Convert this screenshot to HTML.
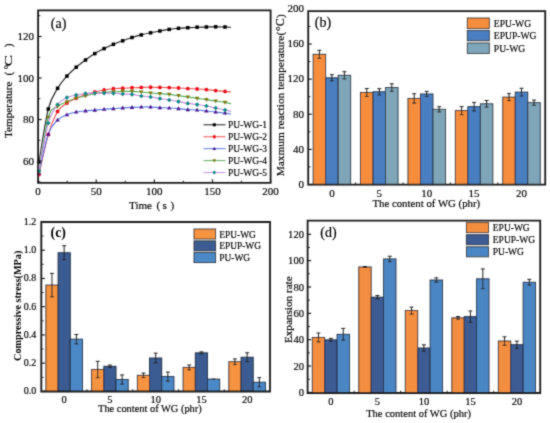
<!DOCTYPE html>
<html><head><meta charset="utf-8"><style>
html,body{margin:0;padding:0;background:#fff;}
body{width:550px;height:423px;overflow:hidden;}
svg{display:block;} .wrap{width:550px;height:423px;}
text{font-family:"Liberation Serif", serif;stroke:#000;stroke-width:0.18px;} text[font-weight=bold]{stroke-width:0;}
</style></head><body>
<div class="wrap"><svg width="550" height="423" viewBox="0 0 550 423">
<defs><filter id="bl" x="0" y="0" width="550" height="423" filterUnits="userSpaceOnUse"><feConvolveMatrix order="3" kernelMatrix="0.03 0.1 0.03 0.1 0.48 0.1 0.03 0.1 0.03" edgeMode="none"/></filter></defs>
<rect width="550" height="423" fill="#fff"/>
<g filter="url(#bl)">
<path d="M39.00 162.00 C40.55 153.17 45.20 121.28 48.30 109.00 C51.40 96.72 54.50 93.78 57.60 88.30 C60.70 82.82 63.80 79.62 66.90 76.10 C70.00 72.58 73.10 69.88 76.20 67.20 C79.30 64.52 82.40 62.27 85.50 60.00 C88.60 57.73 91.70 55.50 94.80 53.60 C97.90 51.70 101.00 50.15 104.10 48.60 C107.20 47.05 110.30 45.60 113.40 44.30 C116.50 43.00 119.60 41.93 122.70 40.80 C125.80 39.67 128.90 38.48 132.00 37.50 C135.10 36.52 138.20 35.68 141.30 34.90 C144.40 34.12 147.50 33.45 150.60 32.80 C153.70 32.15 156.80 31.57 159.90 31.00 C163.00 30.43 166.10 29.85 169.20 29.40 C172.30 28.95 175.40 28.58 178.50 28.30 C181.60 28.02 184.70 27.88 187.80 27.70 C190.90 27.52 194.00 27.32 197.10 27.20 C200.20 27.08 203.30 27.07 206.40 27.00 C209.50 26.93 212.60 26.80 215.70 26.80 C218.80 26.80 222.45 26.93 225.00 27.00 C227.55 27.07 230.00 27.17 231.00 27.20" fill="none" stroke="#222222" stroke-width="1.15"/>
<path d="M39.00 174.50 C40.55 167.83 45.20 145.00 48.30 134.50 C51.40 124.00 54.50 116.73 57.60 111.50 C60.70 106.27 63.80 105.32 66.90 103.10 C70.00 100.88 73.10 99.63 76.20 98.20 C79.30 96.77 82.40 95.53 85.50 94.50 C88.60 93.47 91.70 92.75 94.80 92.00 C97.90 91.25 101.00 90.55 104.10 90.00 C107.20 89.45 110.30 88.98 113.40 88.70 C116.50 88.42 119.60 88.45 122.70 88.30 C125.80 88.15 128.90 87.95 132.00 87.80 C135.10 87.65 138.20 87.50 141.30 87.40 C144.40 87.30 147.50 87.20 150.60 87.20 C153.70 87.20 156.80 87.33 159.90 87.40 C163.00 87.47 166.10 87.50 169.20 87.60 C172.30 87.70 175.40 87.83 178.50 88.00 C181.60 88.17 184.70 88.43 187.80 88.60 C190.90 88.77 194.00 88.83 197.10 89.00 C200.20 89.17 203.30 89.33 206.40 89.60 C209.50 89.87 212.60 90.30 215.70 90.60 C218.80 90.90 222.45 91.17 225.00 91.40 C227.55 91.63 230.00 91.90 231.00 92.00" fill="none" stroke="#f25050" stroke-width="1.15"/>
<path d="M39.00 173.00 C40.55 166.53 45.20 143.03 48.30 134.20 C51.40 125.37 54.50 123.25 57.60 120.00 C60.70 116.75 63.80 116.03 66.90 114.70 C70.00 113.37 73.10 112.65 76.20 112.00 C79.30 111.35 82.40 111.12 85.50 110.80 C88.60 110.48 91.70 110.37 94.80 110.10 C97.90 109.83 101.00 109.45 104.10 109.20 C107.20 108.95 110.30 108.82 113.40 108.60 C116.50 108.38 119.60 108.10 122.70 107.90 C125.80 107.70 128.90 107.55 132.00 107.40 C135.10 107.25 138.20 107.07 141.30 107.00 C144.40 106.93 147.50 106.90 150.60 107.00 C153.70 107.10 156.80 107.43 159.90 107.60 C163.00 107.77 166.10 107.83 169.20 108.00 C172.30 108.17 175.40 108.33 178.50 108.60 C181.60 108.87 184.70 109.37 187.80 109.60 C190.90 109.83 194.00 109.77 197.10 110.00 C200.20 110.23 203.30 110.67 206.40 111.00 C209.50 111.33 212.60 111.67 215.70 112.00 C218.80 112.33 222.45 112.67 225.00 113.00 C227.55 113.33 230.00 113.83 231.00 114.00" fill="none" stroke="#5a7ae0" stroke-width="1.15"/>
<path d="M39.00 172.00 C40.55 162.88 45.20 128.22 48.30 117.30 C51.40 106.38 54.50 109.08 57.60 106.50 C60.70 103.92 63.80 103.18 66.90 101.80 C70.00 100.42 73.10 99.17 76.20 98.20 C79.30 97.23 82.40 96.77 85.50 96.00 C88.60 95.23 91.70 94.20 94.80 93.60 C97.90 93.00 101.00 92.70 104.10 92.40 C107.20 92.10 110.30 91.97 113.40 91.80 C116.50 91.63 119.60 91.47 122.70 91.40 C125.80 91.33 128.90 91.30 132.00 91.40 C135.10 91.50 138.20 91.73 141.30 92.00 C144.40 92.27 147.50 92.73 150.60 93.00 C153.70 93.27 156.80 93.37 159.90 93.60 C163.00 93.83 166.10 94.07 169.20 94.40 C172.30 94.73 175.40 95.17 178.50 95.60 C181.60 96.03 184.70 96.53 187.80 97.00 C190.90 97.47 194.00 97.97 197.10 98.40 C200.20 98.83 203.30 99.17 206.40 99.60 C209.50 100.03 212.60 100.53 215.70 101.00 C218.80 101.47 222.45 101.97 225.00 102.40 C227.55 102.83 230.00 103.40 231.00 103.60" fill="none" stroke="#5aae5a" stroke-width="1.15"/>
<path d="M39.00 171.00 C40.55 163.02 45.20 134.18 48.30 123.10 C51.40 112.02 54.50 108.75 57.60 104.50 C60.70 100.25 63.80 99.17 66.90 97.60 C70.00 96.03 73.10 95.77 76.20 95.10 C79.30 94.43 82.40 93.93 85.50 93.60 C88.60 93.27 91.70 93.18 94.80 93.10 C97.90 93.02 101.00 93.07 104.10 93.10 C107.20 93.13 110.30 93.15 113.40 93.30 C116.50 93.45 119.60 93.82 122.70 94.00 C125.80 94.18 128.90 94.07 132.00 94.40 C135.10 94.73 138.20 95.57 141.30 96.00 C144.40 96.43 147.50 96.57 150.60 97.00 C153.70 97.43 156.80 98.10 159.90 98.60 C163.00 99.10 166.10 99.50 169.20 100.00 C172.30 100.50 175.40 101.03 178.50 101.60 C181.60 102.17 184.70 102.90 187.80 103.40 C190.90 103.90 194.00 104.17 197.10 104.60 C200.20 105.03 203.30 105.43 206.40 106.00 C209.50 106.57 212.60 107.33 215.70 108.00 C218.80 108.67 222.45 109.43 225.00 110.00 C227.55 110.57 230.00 111.17 231.00 111.40" fill="none" stroke="#c090e0" stroke-width="1.15"/>
<rect x="37.25" y="160.25" width="3.50" height="3.50" fill="#000000"/>
<rect x="46.55" y="107.25" width="3.50" height="3.50" fill="#000000"/>
<rect x="55.85" y="86.55" width="3.50" height="3.50" fill="#000000"/>
<rect x="65.15" y="74.35" width="3.50" height="3.50" fill="#000000"/>
<rect x="74.45" y="65.45" width="3.50" height="3.50" fill="#000000"/>
<rect x="83.75" y="58.25" width="3.50" height="3.50" fill="#000000"/>
<rect x="93.05" y="51.85" width="3.50" height="3.50" fill="#000000"/>
<rect x="102.35" y="46.85" width="3.50" height="3.50" fill="#000000"/>
<rect x="111.65" y="42.55" width="3.50" height="3.50" fill="#000000"/>
<rect x="120.95" y="39.05" width="3.50" height="3.50" fill="#000000"/>
<rect x="130.25" y="35.75" width="3.50" height="3.50" fill="#000000"/>
<rect x="139.55" y="33.15" width="3.50" height="3.50" fill="#000000"/>
<rect x="148.85" y="31.05" width="3.50" height="3.50" fill="#000000"/>
<rect x="158.15" y="29.25" width="3.50" height="3.50" fill="#000000"/>
<rect x="167.45" y="27.65" width="3.50" height="3.50" fill="#000000"/>
<rect x="176.75" y="26.55" width="3.50" height="3.50" fill="#000000"/>
<rect x="186.05" y="25.95" width="3.50" height="3.50" fill="#000000"/>
<rect x="195.35" y="25.45" width="3.50" height="3.50" fill="#000000"/>
<rect x="204.65" y="25.25" width="3.50" height="3.50" fill="#000000"/>
<rect x="213.95" y="25.05" width="3.50" height="3.50" fill="#000000"/>
<rect x="223.25" y="25.25" width="3.50" height="3.50" fill="#000000"/>
<circle cx="39.00" cy="174.50" r="1.93" fill="#e8101a"/>
<circle cx="48.30" cy="134.50" r="1.93" fill="#e8101a"/>
<circle cx="57.60" cy="111.50" r="1.93" fill="#e8101a"/>
<circle cx="66.90" cy="103.10" r="1.93" fill="#e8101a"/>
<circle cx="76.20" cy="98.20" r="1.93" fill="#e8101a"/>
<circle cx="85.50" cy="94.50" r="1.93" fill="#e8101a"/>
<circle cx="94.80" cy="92.00" r="1.93" fill="#e8101a"/>
<circle cx="104.10" cy="90.00" r="1.93" fill="#e8101a"/>
<circle cx="113.40" cy="88.70" r="1.93" fill="#e8101a"/>
<circle cx="122.70" cy="88.30" r="1.93" fill="#e8101a"/>
<circle cx="132.00" cy="87.80" r="1.93" fill="#e8101a"/>
<circle cx="141.30" cy="87.40" r="1.93" fill="#e8101a"/>
<circle cx="150.60" cy="87.20" r="1.93" fill="#e8101a"/>
<circle cx="159.90" cy="87.40" r="1.93" fill="#e8101a"/>
<circle cx="169.20" cy="87.60" r="1.93" fill="#e8101a"/>
<circle cx="178.50" cy="88.00" r="1.93" fill="#e8101a"/>
<circle cx="187.80" cy="88.60" r="1.93" fill="#e8101a"/>
<circle cx="197.10" cy="89.00" r="1.93" fill="#e8101a"/>
<circle cx="206.40" cy="89.60" r="1.93" fill="#e8101a"/>
<circle cx="215.70" cy="90.60" r="1.93" fill="#e8101a"/>
<circle cx="225.00" cy="91.40" r="1.93" fill="#e8101a"/>
<path d="M39.00 170.72 L41.27 174.59 L36.73 174.59 Z" fill="#4b0e8c"/>
<path d="M48.30 131.92 L50.57 135.79 L46.02 135.79 Z" fill="#4b0e8c"/>
<path d="M57.60 117.72 L59.88 121.59 L55.33 121.59 Z" fill="#4b0e8c"/>
<path d="M66.90 112.42 L69.18 116.29 L64.62 116.29 Z" fill="#4b0e8c"/>
<path d="M76.20 109.72 L78.48 113.59 L73.92 113.59 Z" fill="#4b0e8c"/>
<path d="M85.50 108.52 L87.78 112.39 L83.22 112.39 Z" fill="#4b0e8c"/>
<path d="M94.80 107.82 L97.08 111.69 L92.53 111.69 Z" fill="#4b0e8c"/>
<path d="M104.10 106.92 L106.38 110.79 L101.83 110.79 Z" fill="#4b0e8c"/>
<path d="M113.40 106.32 L115.68 110.19 L111.12 110.19 Z" fill="#4b0e8c"/>
<path d="M122.70 105.62 L124.98 109.49 L120.42 109.49 Z" fill="#4b0e8c"/>
<path d="M132.00 105.12 L134.28 108.99 L129.72 108.99 Z" fill="#4b0e8c"/>
<path d="M141.30 104.72 L143.58 108.59 L139.03 108.59 Z" fill="#4b0e8c"/>
<path d="M150.60 104.72 L152.88 108.59 L148.33 108.59 Z" fill="#4b0e8c"/>
<path d="M159.90 105.32 L162.18 109.19 L157.62 109.19 Z" fill="#4b0e8c"/>
<path d="M169.20 105.72 L171.48 109.59 L166.93 109.59 Z" fill="#4b0e8c"/>
<path d="M178.50 106.32 L180.78 110.19 L176.22 110.19 Z" fill="#4b0e8c"/>
<path d="M187.80 107.32 L190.08 111.19 L185.53 111.19 Z" fill="#4b0e8c"/>
<path d="M197.10 107.72 L199.38 111.59 L194.83 111.59 Z" fill="#4b0e8c"/>
<path d="M206.40 108.72 L208.68 112.59 L204.12 112.59 Z" fill="#4b0e8c"/>
<path d="M215.70 109.72 L217.98 113.59 L213.43 113.59 Z" fill="#4b0e8c"/>
<path d="M225.00 110.72 L227.28 114.59 L222.72 114.59 Z" fill="#4b0e8c"/>
<path d="M39.00 174.28 L41.27 170.41 L36.73 170.41 Z" fill="#7a7a10"/>
<path d="M48.30 119.58 L50.57 115.71 L46.02 115.71 Z" fill="#7a7a10"/>
<path d="M57.60 108.78 L59.88 104.91 L55.33 104.91 Z" fill="#7a7a10"/>
<path d="M66.90 104.08 L69.18 100.21 L64.62 100.21 Z" fill="#7a7a10"/>
<path d="M76.20 100.48 L78.48 96.61 L73.92 96.61 Z" fill="#7a7a10"/>
<path d="M85.50 98.28 L87.78 94.41 L83.22 94.41 Z" fill="#7a7a10"/>
<path d="M94.80 95.88 L97.08 92.01 L92.53 92.01 Z" fill="#7a7a10"/>
<path d="M104.10 94.68 L106.38 90.81 L101.83 90.81 Z" fill="#7a7a10"/>
<path d="M113.40 94.08 L115.68 90.21 L111.12 90.21 Z" fill="#7a7a10"/>
<path d="M122.70 93.68 L124.98 89.81 L120.42 89.81 Z" fill="#7a7a10"/>
<path d="M132.00 93.68 L134.28 89.81 L129.72 89.81 Z" fill="#7a7a10"/>
<path d="M141.30 94.28 L143.58 90.41 L139.03 90.41 Z" fill="#7a7a10"/>
<path d="M150.60 95.28 L152.88 91.41 L148.33 91.41 Z" fill="#7a7a10"/>
<path d="M159.90 95.88 L162.18 92.01 L157.62 92.01 Z" fill="#7a7a10"/>
<path d="M169.20 96.68 L171.48 92.81 L166.93 92.81 Z" fill="#7a7a10"/>
<path d="M178.50 97.88 L180.78 94.01 L176.22 94.01 Z" fill="#7a7a10"/>
<path d="M187.80 99.28 L190.08 95.41 L185.53 95.41 Z" fill="#7a7a10"/>
<path d="M197.10 100.68 L199.38 96.81 L194.83 96.81 Z" fill="#7a7a10"/>
<path d="M206.40 101.88 L208.68 98.01 L204.12 98.01 Z" fill="#7a7a10"/>
<path d="M215.70 103.28 L217.98 99.41 L213.43 99.41 Z" fill="#7a7a10"/>
<path d="M225.00 104.68 L227.28 100.81 L222.72 100.81 Z" fill="#7a7a10"/>
<path d="M39.00 168.64 L41.36 171.00 L39.00 173.36 L36.64 171.00 Z" fill="#108a88"/>
<path d="M48.30 120.74 L50.66 123.10 L48.30 125.46 L45.94 123.10 Z" fill="#108a88"/>
<path d="M57.60 102.14 L59.96 104.50 L57.60 106.86 L55.24 104.50 Z" fill="#108a88"/>
<path d="M66.90 95.24 L69.26 97.60 L66.90 99.96 L64.54 97.60 Z" fill="#108a88"/>
<path d="M76.20 92.74 L78.56 95.10 L76.20 97.46 L73.84 95.10 Z" fill="#108a88"/>
<path d="M85.50 91.24 L87.86 93.60 L85.50 95.96 L83.14 93.60 Z" fill="#108a88"/>
<path d="M94.80 90.74 L97.16 93.10 L94.80 95.46 L92.44 93.10 Z" fill="#108a88"/>
<path d="M104.10 90.74 L106.46 93.10 L104.10 95.46 L101.74 93.10 Z" fill="#108a88"/>
<path d="M113.40 90.94 L115.76 93.30 L113.40 95.66 L111.04 93.30 Z" fill="#108a88"/>
<path d="M122.70 91.64 L125.06 94.00 L122.70 96.36 L120.34 94.00 Z" fill="#108a88"/>
<path d="M132.00 92.04 L134.36 94.40 L132.00 96.76 L129.64 94.40 Z" fill="#108a88"/>
<path d="M141.30 93.64 L143.66 96.00 L141.30 98.36 L138.94 96.00 Z" fill="#108a88"/>
<path d="M150.60 94.64 L152.96 97.00 L150.60 99.36 L148.24 97.00 Z" fill="#108a88"/>
<path d="M159.90 96.24 L162.26 98.60 L159.90 100.96 L157.54 98.60 Z" fill="#108a88"/>
<path d="M169.20 97.64 L171.56 100.00 L169.20 102.36 L166.84 100.00 Z" fill="#108a88"/>
<path d="M178.50 99.24 L180.86 101.60 L178.50 103.96 L176.14 101.60 Z" fill="#108a88"/>
<path d="M187.80 101.04 L190.16 103.40 L187.80 105.76 L185.44 103.40 Z" fill="#108a88"/>
<path d="M197.10 102.24 L199.46 104.60 L197.10 106.96 L194.74 104.60 Z" fill="#108a88"/>
<path d="M206.40 103.64 L208.76 106.00 L206.40 108.36 L204.04 106.00 Z" fill="#108a88"/>
<path d="M215.70 105.64 L218.06 108.00 L215.70 110.36 L213.34 108.00 Z" fill="#108a88"/>
<path d="M225.00 107.64 L227.36 110.00 L225.00 112.36 L222.64 110.00 Z" fill="#108a88"/>
<path d="M38.10 10.40 H270.60 V182.90 H38.10 Z" fill="none" stroke="#1a1a1a" stroke-width="1.8" stroke-linejoin="miter"/>
<line x1="38.10" y1="161.00" x2="41.60" y2="161.00" stroke="#1a1a1a" stroke-width="1.2"/>
<text x="34.10" y="164.70" font-size="11" text-anchor="end" fill="#000000" font-weight="normal">60</text>
<line x1="38.10" y1="119.50" x2="41.60" y2="119.50" stroke="#1a1a1a" stroke-width="1.2"/>
<text x="34.10" y="123.20" font-size="11" text-anchor="end" fill="#000000" font-weight="normal">80</text>
<line x1="38.10" y1="78.00" x2="41.60" y2="78.00" stroke="#1a1a1a" stroke-width="1.2"/>
<text x="34.10" y="81.70" font-size="11" text-anchor="end" fill="#000000" font-weight="normal">100</text>
<line x1="38.10" y1="36.50" x2="41.60" y2="36.50" stroke="#1a1a1a" stroke-width="1.2"/>
<text x="34.10" y="40.20" font-size="11" text-anchor="end" fill="#000000" font-weight="normal">120</text>
<line x1="38.10" y1="181.75" x2="40.30" y2="181.75" stroke="#1a1a1a" stroke-width="1.0"/>
<line x1="38.10" y1="140.25" x2="40.30" y2="140.25" stroke="#1a1a1a" stroke-width="1.0"/>
<line x1="38.10" y1="98.75" x2="40.30" y2="98.75" stroke="#1a1a1a" stroke-width="1.0"/>
<line x1="38.10" y1="57.25" x2="40.30" y2="57.25" stroke="#1a1a1a" stroke-width="1.0"/>
<line x1="38.10" y1="15.75" x2="40.30" y2="15.75" stroke="#1a1a1a" stroke-width="1.0"/>
<line x1="38.10" y1="182.90" x2="38.10" y2="179.40" stroke="#1a1a1a" stroke-width="1.2"/>
<text x="38.10" y="195.40" font-size="11" text-anchor="middle" fill="#000000" font-weight="normal">0</text>
<line x1="96.23" y1="182.90" x2="96.23" y2="179.40" stroke="#1a1a1a" stroke-width="1.2"/>
<text x="96.23" y="195.40" font-size="11" text-anchor="middle" fill="#000000" font-weight="normal">50</text>
<line x1="154.35" y1="182.90" x2="154.35" y2="179.40" stroke="#1a1a1a" stroke-width="1.2"/>
<text x="154.35" y="195.40" font-size="11" text-anchor="middle" fill="#000000" font-weight="normal">100</text>
<line x1="212.48" y1="182.90" x2="212.48" y2="179.40" stroke="#1a1a1a" stroke-width="1.2"/>
<text x="212.48" y="195.40" font-size="11" text-anchor="middle" fill="#000000" font-weight="normal">150</text>
<line x1="270.60" y1="182.90" x2="270.60" y2="179.40" stroke="#1a1a1a" stroke-width="1.2"/>
<text x="270.60" y="195.40" font-size="11" text-anchor="middle" fill="#000000" font-weight="normal">200</text>
<line x1="67.16" y1="182.90" x2="67.16" y2="180.70" stroke="#1a1a1a" stroke-width="1.0"/>
<line x1="125.29" y1="182.90" x2="125.29" y2="180.70" stroke="#1a1a1a" stroke-width="1.0"/>
<line x1="183.41" y1="182.90" x2="183.41" y2="180.70" stroke="#1a1a1a" stroke-width="1.0"/>
<line x1="241.54" y1="182.90" x2="241.54" y2="180.70" stroke="#1a1a1a" stroke-width="1.0"/>
<text x="50.80" y="28.30" font-size="14" text-anchor="start" fill="#000000" font-weight="normal">(a)</text>
<line x1="203.50" y1="124.80" x2="225.50" y2="124.80" stroke="#222222" stroke-width="1"/>
<rect x="212.80" y="123.30" width="3.00" height="3.00" fill="#000000"/>
<text x="228.00" y="128.10" font-size="9.5" text-anchor="start" fill="#000000" font-weight="normal">PU-WG-1</text>
<line x1="203.50" y1="136.75" x2="225.50" y2="136.75" stroke="#f25050" stroke-width="1"/>
<circle cx="214.30" cy="136.75" r="1.65" fill="#e8101a"/>
<text x="228.00" y="140.05" font-size="9.5" text-anchor="start" fill="#000000" font-weight="normal">PU-WG-2</text>
<line x1="203.50" y1="148.70" x2="225.50" y2="148.70" stroke="#5a7ae0" stroke-width="1"/>
<path d="M214.30 146.75 L216.25 150.06 L212.35 150.06 Z" fill="#4b0e8c"/>
<text x="228.00" y="152.00" font-size="9.5" text-anchor="start" fill="#000000" font-weight="normal">PU-WG-3</text>
<line x1="203.50" y1="160.65" x2="225.50" y2="160.65" stroke="#5aae5a" stroke-width="1"/>
<path d="M214.30 162.60 L216.25 159.28 L212.35 159.28 Z" fill="#7a7a10"/>
<text x="228.00" y="163.95" font-size="9.5" text-anchor="start" fill="#000000" font-weight="normal">PU-WG-4</text>
<line x1="203.50" y1="172.60" x2="225.50" y2="172.60" stroke="#c090e0" stroke-width="1"/>
<path d="M214.30 170.57 L216.33 172.60 L214.30 174.62 L212.28 172.60 Z" fill="#108a88"/>
<text x="228.00" y="175.90" font-size="9.5" text-anchor="start" fill="#000000" font-weight="normal">PU-WG-5</text>
<text transform="translate(129.00 208.50) rotate(0)" font-size="11.1" fill="#000000"><tspan x="0.00">Time</tspan><tspan x="27.60">(</tspan><tspan x="33.60">s</tspan><tspan x="41.60">)</tspan></text>
<text transform="translate(12.30 138.00) rotate(-90)" font-size="11.2" fill="#000000"><tspan x="0.00">Temperature</tspan><tspan x="62.40">(</tspan><tspan x="68.50" font-size="11.2">°</tspan><tspan x="71.40" font-size="11.2" textLength="11.6" lengthAdjust="spacingAndGlyphs">C</tspan><tspan x="90.80">)</tspan></text>
<rect x="313.15" y="54.29" width="12.50" height="130.31" fill="#f68d3d" stroke="#1e2a3a" stroke-width="0.9"/>
<rect x="325.65" y="77.82" width="12.50" height="106.78" fill="#4a7fc0" stroke="#1e2a3a" stroke-width="0.9"/>
<rect x="338.15" y="75.28" width="12.50" height="109.32" fill="#7fa5b8" stroke="#1e2a3a" stroke-width="0.9"/>
<rect x="360.55" y="92.49" width="12.50" height="92.11" fill="#f68d3d" stroke="#1e2a3a" stroke-width="0.9"/>
<rect x="373.05" y="91.78" width="12.50" height="92.82" fill="#4a7fc0" stroke="#1e2a3a" stroke-width="0.9"/>
<rect x="385.55" y="87.57" width="12.50" height="97.03" fill="#7fa5b8" stroke="#1e2a3a" stroke-width="0.9"/>
<rect x="407.95" y="98.46" width="12.50" height="86.14" fill="#f68d3d" stroke="#1e2a3a" stroke-width="0.9"/>
<rect x="420.45" y="93.98" width="12.50" height="90.62" fill="#4a7fc0" stroke="#1e2a3a" stroke-width="0.9"/>
<rect x="432.95" y="109.34" width="12.50" height="75.26" fill="#7fa5b8" stroke="#1e2a3a" stroke-width="0.9"/>
<rect x="455.35" y="110.66" width="12.50" height="73.94" fill="#f68d3d" stroke="#1e2a3a" stroke-width="0.9"/>
<rect x="467.85" y="106.71" width="12.50" height="77.89" fill="#4a7fc0" stroke="#1e2a3a" stroke-width="0.9"/>
<rect x="480.35" y="103.81" width="12.50" height="80.79" fill="#7fa5b8" stroke="#1e2a3a" stroke-width="0.9"/>
<rect x="502.75" y="97.14" width="12.50" height="87.46" fill="#f68d3d" stroke="#1e2a3a" stroke-width="0.9"/>
<rect x="515.25" y="92.13" width="12.50" height="92.47" fill="#4a7fc0" stroke="#1e2a3a" stroke-width="0.9"/>
<rect x="527.75" y="102.67" width="12.50" height="81.93" fill="#7fa5b8" stroke="#1e2a3a" stroke-width="0.9"/>
<line x1="319.40" y1="50.29" x2="319.40" y2="58.29" stroke="#222" stroke-width="1.0"/>
<line x1="317.45" y1="50.29" x2="321.35" y2="50.29" stroke="#222" stroke-width="1.0"/>
<line x1="317.45" y1="58.29" x2="321.35" y2="58.29" stroke="#222" stroke-width="1.0"/>
<line x1="331.90" y1="74.72" x2="331.90" y2="80.92" stroke="#222" stroke-width="1.0"/>
<line x1="329.95" y1="74.72" x2="333.85" y2="74.72" stroke="#222" stroke-width="1.0"/>
<line x1="329.95" y1="80.92" x2="333.85" y2="80.92" stroke="#222" stroke-width="1.0"/>
<line x1="344.40" y1="71.68" x2="344.40" y2="78.88" stroke="#222" stroke-width="1.0"/>
<line x1="342.45" y1="71.68" x2="346.35" y2="71.68" stroke="#222" stroke-width="1.0"/>
<line x1="342.45" y1="78.88" x2="346.35" y2="78.88" stroke="#222" stroke-width="1.0"/>
<line x1="366.80" y1="88.49" x2="366.80" y2="96.49" stroke="#222" stroke-width="1.0"/>
<line x1="364.85" y1="88.49" x2="368.75" y2="88.49" stroke="#222" stroke-width="1.0"/>
<line x1="364.85" y1="96.49" x2="368.75" y2="96.49" stroke="#222" stroke-width="1.0"/>
<line x1="379.30" y1="88.68" x2="379.30" y2="94.88" stroke="#222" stroke-width="1.0"/>
<line x1="377.35" y1="88.68" x2="381.25" y2="88.68" stroke="#222" stroke-width="1.0"/>
<line x1="377.35" y1="94.88" x2="381.25" y2="94.88" stroke="#222" stroke-width="1.0"/>
<line x1="391.80" y1="83.82" x2="391.80" y2="91.32" stroke="#222" stroke-width="1.0"/>
<line x1="389.85" y1="83.82" x2="393.75" y2="83.82" stroke="#222" stroke-width="1.0"/>
<line x1="389.85" y1="91.32" x2="393.75" y2="91.32" stroke="#222" stroke-width="1.0"/>
<line x1="414.20" y1="93.76" x2="414.20" y2="103.16" stroke="#222" stroke-width="1.0"/>
<line x1="412.25" y1="93.76" x2="416.15" y2="93.76" stroke="#222" stroke-width="1.0"/>
<line x1="412.25" y1="103.16" x2="416.15" y2="103.16" stroke="#222" stroke-width="1.0"/>
<line x1="426.70" y1="91.38" x2="426.70" y2="96.58" stroke="#222" stroke-width="1.0"/>
<line x1="424.75" y1="91.38" x2="428.65" y2="91.38" stroke="#222" stroke-width="1.0"/>
<line x1="424.75" y1="96.58" x2="428.65" y2="96.58" stroke="#222" stroke-width="1.0"/>
<line x1="439.20" y1="106.74" x2="439.20" y2="111.94" stroke="#222" stroke-width="1.0"/>
<line x1="437.25" y1="106.74" x2="441.15" y2="106.74" stroke="#222" stroke-width="1.0"/>
<line x1="437.25" y1="111.94" x2="441.15" y2="111.94" stroke="#222" stroke-width="1.0"/>
<line x1="461.60" y1="106.66" x2="461.60" y2="114.66" stroke="#222" stroke-width="1.0"/>
<line x1="459.65" y1="106.66" x2="463.55" y2="106.66" stroke="#222" stroke-width="1.0"/>
<line x1="459.65" y1="114.66" x2="463.55" y2="114.66" stroke="#222" stroke-width="1.0"/>
<line x1="474.10" y1="102.41" x2="474.10" y2="111.01" stroke="#222" stroke-width="1.0"/>
<line x1="472.15" y1="102.41" x2="476.05" y2="102.41" stroke="#222" stroke-width="1.0"/>
<line x1="472.15" y1="111.01" x2="476.05" y2="111.01" stroke="#222" stroke-width="1.0"/>
<line x1="486.60" y1="100.51" x2="486.60" y2="107.11" stroke="#222" stroke-width="1.0"/>
<line x1="484.65" y1="100.51" x2="488.55" y2="100.51" stroke="#222" stroke-width="1.0"/>
<line x1="484.65" y1="107.11" x2="488.55" y2="107.11" stroke="#222" stroke-width="1.0"/>
<line x1="509.00" y1="93.64" x2="509.00" y2="100.64" stroke="#222" stroke-width="1.0"/>
<line x1="507.05" y1="93.64" x2="510.95" y2="93.64" stroke="#222" stroke-width="1.0"/>
<line x1="507.05" y1="100.64" x2="510.95" y2="100.64" stroke="#222" stroke-width="1.0"/>
<line x1="521.50" y1="88.28" x2="521.50" y2="95.98" stroke="#222" stroke-width="1.0"/>
<line x1="519.55" y1="88.28" x2="523.45" y2="88.28" stroke="#222" stroke-width="1.0"/>
<line x1="519.55" y1="95.98" x2="523.45" y2="95.98" stroke="#222" stroke-width="1.0"/>
<line x1="534.00" y1="100.07" x2="534.00" y2="105.27" stroke="#222" stroke-width="1.0"/>
<line x1="532.05" y1="100.07" x2="535.95" y2="100.07" stroke="#222" stroke-width="1.0"/>
<line x1="532.05" y1="105.27" x2="535.95" y2="105.27" stroke="#222" stroke-width="1.0"/>
<line x1="355.60" y1="184.60" x2="355.60" y2="182.40" stroke="#1a1a1a" stroke-width="1.0"/>
<line x1="403.00" y1="184.60" x2="403.00" y2="182.40" stroke="#1a1a1a" stroke-width="1.0"/>
<line x1="450.40" y1="184.60" x2="450.40" y2="182.40" stroke="#1a1a1a" stroke-width="1.0"/>
<line x1="497.80" y1="184.60" x2="497.80" y2="182.40" stroke="#1a1a1a" stroke-width="1.0"/>
<path d="M308.20 11.20 H545.20 V184.60 H308.20 Z" fill="none" stroke="#1a1a1a" stroke-width="1.8" stroke-linejoin="miter"/>
<line x1="308.20" y1="184.50" x2="311.70" y2="184.50" stroke="#1a1a1a" stroke-width="1.2"/>
<text x="303.90" y="187.80" font-size="11" text-anchor="end" fill="#000000" font-weight="normal">0</text>
<line x1="308.20" y1="149.38" x2="311.70" y2="149.38" stroke="#1a1a1a" stroke-width="1.2"/>
<text x="303.90" y="152.68" font-size="11" text-anchor="end" fill="#000000" font-weight="normal">40</text>
<line x1="308.20" y1="114.26" x2="311.70" y2="114.26" stroke="#1a1a1a" stroke-width="1.2"/>
<text x="303.90" y="117.56" font-size="11" text-anchor="end" fill="#000000" font-weight="normal">80</text>
<line x1="308.20" y1="79.14" x2="311.70" y2="79.14" stroke="#1a1a1a" stroke-width="1.2"/>
<text x="303.90" y="82.44" font-size="11" text-anchor="end" fill="#000000" font-weight="normal">120</text>
<line x1="308.20" y1="44.02" x2="311.70" y2="44.02" stroke="#1a1a1a" stroke-width="1.2"/>
<text x="303.90" y="47.32" font-size="11" text-anchor="end" fill="#000000" font-weight="normal">160</text>
<text x="303.90" y="12.20" font-size="11" text-anchor="end" fill="#000000" font-weight="normal">200</text>
<line x1="308.20" y1="166.94" x2="310.40" y2="166.94" stroke="#1a1a1a" stroke-width="1.0"/>
<line x1="308.20" y1="131.82" x2="310.40" y2="131.82" stroke="#1a1a1a" stroke-width="1.0"/>
<line x1="308.20" y1="96.70" x2="310.40" y2="96.70" stroke="#1a1a1a" stroke-width="1.0"/>
<line x1="308.20" y1="61.58" x2="310.40" y2="61.58" stroke="#1a1a1a" stroke-width="1.0"/>
<line x1="308.20" y1="26.46" x2="310.40" y2="26.46" stroke="#1a1a1a" stroke-width="1.0"/>
<text x="331.90" y="197.20" font-size="11" text-anchor="middle" fill="#000000" font-weight="normal">0</text>
<text x="379.30" y="197.20" font-size="11" text-anchor="middle" fill="#000000" font-weight="normal">5</text>
<text x="426.70" y="197.20" font-size="11" text-anchor="middle" fill="#000000" font-weight="normal">10</text>
<text x="474.10" y="197.20" font-size="11" text-anchor="middle" fill="#000000" font-weight="normal">15</text>
<text x="521.50" y="197.20" font-size="11" text-anchor="middle" fill="#000000" font-weight="normal">20</text>
<text x="426.30" y="206.50" font-size="10.8" text-anchor="middle" fill="#000000" font-weight="normal">The content of WG (phr)</text>
<text transform="translate(283.80 176.30) rotate(-90)" font-size="11.37" fill="#000000"><tspan x="0.00">Maxmum reaction temperature</tspan><tspan x="140.90">(</tspan><tspan x="145.30" font-size="12">°C</tspan><tspan x="158.30">)</tspan></text>
<text x="314.80" y="27.00" font-size="14" text-anchor="start" fill="#000000" font-weight="normal">(b)</text>
<rect x="467.30" y="18.00" width="22.00" height="10.40" fill="#f68d3d" stroke="#333" stroke-width="0.9"/>
<text x="493.80" y="26.70" font-size="9.6" text-anchor="start" fill="#000000" font-weight="normal">EPU-WG</text>
<rect x="467.30" y="30.40" width="22.00" height="10.40" fill="#4a7fc0" stroke="#333" stroke-width="0.9"/>
<text x="493.80" y="39.10" font-size="9.6" text-anchor="start" fill="#000000" font-weight="normal">EPUP-WG</text>
<rect x="467.30" y="43.00" width="22.00" height="10.40" fill="#7fa5b8" stroke="#333" stroke-width="0.9"/>
<text x="493.80" y="51.70" font-size="9.6" text-anchor="start" fill="#000000" font-weight="normal">PU-WG</text>
<rect x="45.87" y="285.08" width="12.20" height="106.42" fill="#f59340" stroke="#1e2a3a" stroke-width="0.9"/>
<rect x="58.07" y="252.74" width="12.20" height="138.76" fill="#3a5b92" stroke="#1e2a3a" stroke-width="0.9"/>
<rect x="70.27" y="339.16" width="12.20" height="52.34" fill="#4b88c6" stroke="#1e2a3a" stroke-width="0.9"/>
<rect x="91.61" y="369.51" width="12.20" height="21.99" fill="#f59340" stroke="#1e2a3a" stroke-width="0.9"/>
<rect x="103.81" y="366.27" width="12.20" height="25.23" fill="#3a5b92" stroke="#1e2a3a" stroke-width="0.9"/>
<rect x="116.01" y="379.54" width="12.20" height="11.96" fill="#4b88c6" stroke="#1e2a3a" stroke-width="0.9"/>
<rect x="137.35" y="375.30" width="12.20" height="16.20" fill="#f59340" stroke="#1e2a3a" stroke-width="0.9"/>
<rect x="149.55" y="358.01" width="12.20" height="33.49" fill="#3a5b92" stroke="#1e2a3a" stroke-width="0.9"/>
<rect x="161.75" y="376.57" width="12.20" height="14.93" fill="#4b88c6" stroke="#1e2a3a" stroke-width="0.9"/>
<rect x="183.09" y="367.40" width="12.20" height="24.10" fill="#f59340" stroke="#1e2a3a" stroke-width="0.9"/>
<rect x="195.29" y="352.85" width="12.20" height="38.65" fill="#3a5b92" stroke="#1e2a3a" stroke-width="0.9"/>
<rect x="207.49" y="379.12" width="12.20" height="12.38" fill="#4b88c6" stroke="#1e2a3a" stroke-width="0.9"/>
<rect x="228.83" y="361.75" width="12.20" height="29.75" fill="#f59340" stroke="#1e2a3a" stroke-width="0.9"/>
<rect x="241.03" y="357.23" width="12.20" height="34.27" fill="#3a5b92" stroke="#1e2a3a" stroke-width="0.9"/>
<rect x="253.23" y="382.22" width="12.20" height="9.28" fill="#4b88c6" stroke="#1e2a3a" stroke-width="0.9"/>
<line x1="51.97" y1="273.38" x2="51.97" y2="296.78" stroke="#222" stroke-width="1.0"/>
<line x1="50.02" y1="273.38" x2="53.92" y2="273.38" stroke="#222" stroke-width="1.0"/>
<line x1="50.02" y1="296.78" x2="53.92" y2="296.78" stroke="#222" stroke-width="1.0"/>
<line x1="64.17" y1="245.74" x2="64.17" y2="259.74" stroke="#222" stroke-width="1.0"/>
<line x1="62.22" y1="245.74" x2="66.12" y2="245.74" stroke="#222" stroke-width="1.0"/>
<line x1="62.22" y1="259.74" x2="66.12" y2="259.74" stroke="#222" stroke-width="1.0"/>
<line x1="76.37" y1="334.46" x2="76.37" y2="343.86" stroke="#222" stroke-width="1.0"/>
<line x1="74.42" y1="334.46" x2="78.32" y2="334.46" stroke="#222" stroke-width="1.0"/>
<line x1="74.42" y1="343.86" x2="78.32" y2="343.86" stroke="#222" stroke-width="1.0"/>
<line x1="97.71" y1="361.31" x2="97.71" y2="377.71" stroke="#222" stroke-width="1.0"/>
<line x1="95.76" y1="361.31" x2="99.66" y2="361.31" stroke="#222" stroke-width="1.0"/>
<line x1="95.76" y1="377.71" x2="99.66" y2="377.71" stroke="#222" stroke-width="1.0"/>
<line x1="109.91" y1="365.07" x2="109.91" y2="367.47" stroke="#222" stroke-width="1.0"/>
<line x1="107.96" y1="365.07" x2="111.86" y2="365.07" stroke="#222" stroke-width="1.0"/>
<line x1="107.96" y1="367.47" x2="111.86" y2="367.47" stroke="#222" stroke-width="1.0"/>
<line x1="122.11" y1="374.94" x2="122.11" y2="384.14" stroke="#222" stroke-width="1.0"/>
<line x1="120.16" y1="374.94" x2="124.06" y2="374.94" stroke="#222" stroke-width="1.0"/>
<line x1="120.16" y1="384.14" x2="124.06" y2="384.14" stroke="#222" stroke-width="1.0"/>
<line x1="143.45" y1="373.00" x2="143.45" y2="377.60" stroke="#222" stroke-width="1.0"/>
<line x1="141.50" y1="373.00" x2="145.40" y2="373.00" stroke="#222" stroke-width="1.0"/>
<line x1="141.50" y1="377.60" x2="145.40" y2="377.60" stroke="#222" stroke-width="1.0"/>
<line x1="155.65" y1="353.16" x2="155.65" y2="362.86" stroke="#222" stroke-width="1.0"/>
<line x1="153.70" y1="353.16" x2="157.60" y2="353.16" stroke="#222" stroke-width="1.0"/>
<line x1="153.70" y1="362.86" x2="157.60" y2="362.86" stroke="#222" stroke-width="1.0"/>
<line x1="167.85" y1="372.07" x2="167.85" y2="381.07" stroke="#222" stroke-width="1.0"/>
<line x1="165.90" y1="372.07" x2="169.80" y2="372.07" stroke="#222" stroke-width="1.0"/>
<line x1="165.90" y1="381.07" x2="169.80" y2="381.07" stroke="#222" stroke-width="1.0"/>
<line x1="189.19" y1="365.00" x2="189.19" y2="369.80" stroke="#222" stroke-width="1.0"/>
<line x1="187.24" y1="365.00" x2="191.14" y2="365.00" stroke="#222" stroke-width="1.0"/>
<line x1="187.24" y1="369.80" x2="191.14" y2="369.80" stroke="#222" stroke-width="1.0"/>
<line x1="201.39" y1="351.85" x2="201.39" y2="353.85" stroke="#222" stroke-width="1.0"/>
<line x1="199.44" y1="351.85" x2="203.34" y2="351.85" stroke="#222" stroke-width="1.0"/>
<line x1="199.44" y1="353.85" x2="203.34" y2="353.85" stroke="#222" stroke-width="1.0"/>
<line x1="211.64" y1="379.12" x2="215.54" y2="379.12" stroke="#222" stroke-width="1.0"/>
<line x1="234.93" y1="358.95" x2="234.93" y2="364.55" stroke="#222" stroke-width="1.0"/>
<line x1="232.98" y1="358.95" x2="236.88" y2="358.95" stroke="#222" stroke-width="1.0"/>
<line x1="232.98" y1="364.55" x2="236.88" y2="364.55" stroke="#222" stroke-width="1.0"/>
<line x1="247.13" y1="352.78" x2="247.13" y2="361.68" stroke="#222" stroke-width="1.0"/>
<line x1="245.18" y1="352.78" x2="249.08" y2="352.78" stroke="#222" stroke-width="1.0"/>
<line x1="245.18" y1="361.68" x2="249.08" y2="361.68" stroke="#222" stroke-width="1.0"/>
<line x1="259.33" y1="377.62" x2="259.33" y2="386.82" stroke="#222" stroke-width="1.0"/>
<line x1="257.38" y1="377.62" x2="261.28" y2="377.62" stroke="#222" stroke-width="1.0"/>
<line x1="257.38" y1="386.82" x2="261.28" y2="386.82" stroke="#222" stroke-width="1.0"/>
<line x1="87.04" y1="391.50" x2="87.04" y2="389.30" stroke="#1a1a1a" stroke-width="1.0"/>
<line x1="132.78" y1="391.50" x2="132.78" y2="389.30" stroke="#1a1a1a" stroke-width="1.0"/>
<line x1="178.52" y1="391.50" x2="178.52" y2="389.30" stroke="#1a1a1a" stroke-width="1.0"/>
<line x1="224.26" y1="391.50" x2="224.26" y2="389.30" stroke="#1a1a1a" stroke-width="1.0"/>
<path d="M41.30 222.00 H270.00 V391.50 H41.30 Z" fill="none" stroke="#1a1a1a" stroke-width="1.8" stroke-linejoin="miter"/>
<line x1="41.30" y1="391.40" x2="44.80" y2="391.40" stroke="#1a1a1a" stroke-width="1.2"/>
<text x="36.30" y="394.30" font-size="10" text-anchor="end" fill="#000000" font-weight="normal">0.0</text>
<line x1="41.30" y1="363.16" x2="44.80" y2="363.16" stroke="#1a1a1a" stroke-width="1.2"/>
<text x="36.30" y="366.06" font-size="10" text-anchor="end" fill="#000000" font-weight="normal">0.2</text>
<line x1="41.30" y1="334.92" x2="44.80" y2="334.92" stroke="#1a1a1a" stroke-width="1.2"/>
<text x="36.30" y="337.82" font-size="10" text-anchor="end" fill="#000000" font-weight="normal">0.4</text>
<line x1="41.30" y1="306.68" x2="44.80" y2="306.68" stroke="#1a1a1a" stroke-width="1.2"/>
<text x="36.30" y="309.58" font-size="10" text-anchor="end" fill="#000000" font-weight="normal">0.6</text>
<line x1="41.30" y1="278.44" x2="44.80" y2="278.44" stroke="#1a1a1a" stroke-width="1.2"/>
<text x="36.30" y="281.34" font-size="10" text-anchor="end" fill="#000000" font-weight="normal">0.8</text>
<line x1="41.30" y1="250.20" x2="44.80" y2="250.20" stroke="#1a1a1a" stroke-width="1.2"/>
<text x="36.30" y="253.10" font-size="10" text-anchor="end" fill="#000000" font-weight="normal">1.0</text>
<text x="36.30" y="224.86" font-size="10" text-anchor="end" fill="#000000" font-weight="normal">1.2</text>
<line x1="41.30" y1="377.28" x2="43.50" y2="377.28" stroke="#1a1a1a" stroke-width="1.0"/>
<line x1="41.30" y1="349.04" x2="43.50" y2="349.04" stroke="#1a1a1a" stroke-width="1.0"/>
<line x1="41.30" y1="320.80" x2="43.50" y2="320.80" stroke="#1a1a1a" stroke-width="1.0"/>
<line x1="41.30" y1="292.56" x2="43.50" y2="292.56" stroke="#1a1a1a" stroke-width="1.0"/>
<line x1="41.30" y1="264.32" x2="43.50" y2="264.32" stroke="#1a1a1a" stroke-width="1.0"/>
<line x1="41.30" y1="236.08" x2="43.50" y2="236.08" stroke="#1a1a1a" stroke-width="1.0"/>
<text x="64.17" y="402.80" font-size="10.5" text-anchor="middle" fill="#000000" font-weight="normal">0</text>
<text x="109.91" y="402.80" font-size="10.5" text-anchor="middle" fill="#000000" font-weight="normal">5</text>
<text x="155.65" y="402.80" font-size="10.5" text-anchor="middle" fill="#000000" font-weight="normal">10</text>
<text x="201.39" y="402.80" font-size="10.5" text-anchor="middle" fill="#000000" font-weight="normal">15</text>
<text x="247.13" y="402.80" font-size="10.5" text-anchor="middle" fill="#000000" font-weight="normal">20</text>
<text x="149.90" y="411.90" font-size="10.4" text-anchor="middle" fill="#000000" font-weight="normal">The content of WG (phr)</text>
<text x="21.50" y="305.80" font-size="10.2" text-anchor="middle" fill="#000000" font-weight="bold" transform="rotate(-90 21.5 305.8)">Compressive stress(MPa)</text>
<text x="50.50" y="237.30" font-size="13.9" text-anchor="start" fill="#000000" font-weight="bold">(c)</text>
<rect x="194.00" y="229.00" width="21.60" height="10.00" fill="#f59340" stroke="#333" stroke-width="0.9"/>
<text x="219.30" y="237.50" font-size="9.4" text-anchor="start" fill="#000000" font-weight="normal">EPU-WG</text>
<rect x="194.00" y="240.90" width="21.60" height="10.00" fill="#3a5b92" stroke="#333" stroke-width="0.9"/>
<text x="219.30" y="249.40" font-size="9.4" text-anchor="start" fill="#000000" font-weight="normal">EPUP-WG</text>
<rect x="194.00" y="252.60" width="21.60" height="10.00" fill="#4b88c6" stroke="#333" stroke-width="0.9"/>
<text x="219.30" y="261.10" font-size="9.4" text-anchor="start" fill="#000000" font-weight="normal">PU-WG</text>
<rect x="312.26" y="337.46" width="12.40" height="55.54" fill="#f38e3f" stroke="#1e2a3a" stroke-width="0.9"/>
<rect x="324.66" y="339.83" width="12.40" height="53.17" fill="#3c5c94" stroke="#1e2a3a" stroke-width="0.9"/>
<rect x="337.06" y="334.30" width="12.40" height="58.70" fill="#4c86c4" stroke="#1e2a3a" stroke-width="0.9"/>
<rect x="358.78" y="266.97" width="12.40" height="126.03" fill="#f38e3f" stroke="#1e2a3a" stroke-width="0.9"/>
<rect x="371.18" y="297.14" width="12.40" height="95.86" fill="#3c5c94" stroke="#1e2a3a" stroke-width="0.9"/>
<rect x="383.58" y="258.94" width="12.40" height="134.06" fill="#4c86c4" stroke="#1e2a3a" stroke-width="0.9"/>
<rect x="405.30" y="310.58" width="12.40" height="82.42" fill="#f38e3f" stroke="#1e2a3a" stroke-width="0.9"/>
<rect x="417.70" y="348.00" width="12.40" height="45.00" fill="#3c5c94" stroke="#1e2a3a" stroke-width="0.9"/>
<rect x="430.10" y="280.02" width="12.40" height="112.98" fill="#4c86c4" stroke="#1e2a3a" stroke-width="0.9"/>
<rect x="451.82" y="317.83" width="12.40" height="75.17" fill="#f38e3f" stroke="#1e2a3a" stroke-width="0.9"/>
<rect x="464.22" y="316.64" width="12.40" height="76.36" fill="#3c5c94" stroke="#1e2a3a" stroke-width="0.9"/>
<rect x="476.62" y="278.83" width="12.40" height="114.17" fill="#4c86c4" stroke="#1e2a3a" stroke-width="0.9"/>
<rect x="498.34" y="341.02" width="12.40" height="51.98" fill="#f38e3f" stroke="#1e2a3a" stroke-width="0.9"/>
<rect x="510.74" y="344.71" width="12.40" height="48.29" fill="#3c5c94" stroke="#1e2a3a" stroke-width="0.9"/>
<rect x="523.14" y="282.26" width="12.40" height="110.74" fill="#4c86c4" stroke="#1e2a3a" stroke-width="0.9"/>
<line x1="318.46" y1="333.01" x2="318.46" y2="341.91" stroke="#222" stroke-width="1.0"/>
<line x1="316.51" y1="333.01" x2="320.41" y2="333.01" stroke="#222" stroke-width="1.0"/>
<line x1="316.51" y1="341.91" x2="320.41" y2="341.91" stroke="#222" stroke-width="1.0"/>
<line x1="330.86" y1="338.33" x2="330.86" y2="341.33" stroke="#222" stroke-width="1.0"/>
<line x1="328.91" y1="338.33" x2="332.81" y2="338.33" stroke="#222" stroke-width="1.0"/>
<line x1="328.91" y1="341.33" x2="332.81" y2="341.33" stroke="#222" stroke-width="1.0"/>
<line x1="343.26" y1="328.40" x2="343.26" y2="340.20" stroke="#222" stroke-width="1.0"/>
<line x1="341.31" y1="328.40" x2="345.21" y2="328.40" stroke="#222" stroke-width="1.0"/>
<line x1="341.31" y1="340.20" x2="345.21" y2="340.20" stroke="#222" stroke-width="1.0"/>
<line x1="364.98" y1="266.47" x2="364.98" y2="267.47" stroke="#222" stroke-width="1.0"/>
<line x1="363.03" y1="266.47" x2="366.93" y2="266.47" stroke="#222" stroke-width="1.0"/>
<line x1="363.03" y1="267.47" x2="366.93" y2="267.47" stroke="#222" stroke-width="1.0"/>
<line x1="377.38" y1="295.49" x2="377.38" y2="298.79" stroke="#222" stroke-width="1.0"/>
<line x1="375.43" y1="295.49" x2="379.33" y2="295.49" stroke="#222" stroke-width="1.0"/>
<line x1="375.43" y1="298.79" x2="379.33" y2="298.79" stroke="#222" stroke-width="1.0"/>
<line x1="389.78" y1="256.24" x2="389.78" y2="261.64" stroke="#222" stroke-width="1.0"/>
<line x1="387.83" y1="256.24" x2="391.73" y2="256.24" stroke="#222" stroke-width="1.0"/>
<line x1="387.83" y1="261.64" x2="391.73" y2="261.64" stroke="#222" stroke-width="1.0"/>
<line x1="411.50" y1="307.13" x2="411.50" y2="314.03" stroke="#222" stroke-width="1.0"/>
<line x1="409.55" y1="307.13" x2="413.45" y2="307.13" stroke="#222" stroke-width="1.0"/>
<line x1="409.55" y1="314.03" x2="413.45" y2="314.03" stroke="#222" stroke-width="1.0"/>
<line x1="423.90" y1="344.80" x2="423.90" y2="351.20" stroke="#222" stroke-width="1.0"/>
<line x1="421.95" y1="344.80" x2="425.85" y2="344.80" stroke="#222" stroke-width="1.0"/>
<line x1="421.95" y1="351.20" x2="425.85" y2="351.20" stroke="#222" stroke-width="1.0"/>
<line x1="436.30" y1="277.82" x2="436.30" y2="282.22" stroke="#222" stroke-width="1.0"/>
<line x1="434.35" y1="277.82" x2="438.25" y2="277.82" stroke="#222" stroke-width="1.0"/>
<line x1="434.35" y1="282.22" x2="438.25" y2="282.22" stroke="#222" stroke-width="1.0"/>
<line x1="458.02" y1="316.53" x2="458.02" y2="319.13" stroke="#222" stroke-width="1.0"/>
<line x1="456.07" y1="316.53" x2="459.97" y2="316.53" stroke="#222" stroke-width="1.0"/>
<line x1="456.07" y1="319.13" x2="459.97" y2="319.13" stroke="#222" stroke-width="1.0"/>
<line x1="470.42" y1="310.94" x2="470.42" y2="322.34" stroke="#222" stroke-width="1.0"/>
<line x1="468.47" y1="310.94" x2="472.37" y2="310.94" stroke="#222" stroke-width="1.0"/>
<line x1="468.47" y1="322.34" x2="472.37" y2="322.34" stroke="#222" stroke-width="1.0"/>
<line x1="482.82" y1="268.93" x2="482.82" y2="288.73" stroke="#222" stroke-width="1.0"/>
<line x1="480.87" y1="268.93" x2="484.77" y2="268.93" stroke="#222" stroke-width="1.0"/>
<line x1="480.87" y1="288.73" x2="484.77" y2="288.73" stroke="#222" stroke-width="1.0"/>
<line x1="504.54" y1="336.82" x2="504.54" y2="345.22" stroke="#222" stroke-width="1.0"/>
<line x1="502.59" y1="336.82" x2="506.49" y2="336.82" stroke="#222" stroke-width="1.0"/>
<line x1="502.59" y1="345.22" x2="506.49" y2="345.22" stroke="#222" stroke-width="1.0"/>
<line x1="516.94" y1="341.16" x2="516.94" y2="348.26" stroke="#222" stroke-width="1.0"/>
<line x1="514.99" y1="341.16" x2="518.89" y2="341.16" stroke="#222" stroke-width="1.0"/>
<line x1="514.99" y1="348.26" x2="518.89" y2="348.26" stroke="#222" stroke-width="1.0"/>
<line x1="529.34" y1="279.36" x2="529.34" y2="285.16" stroke="#222" stroke-width="1.0"/>
<line x1="527.39" y1="279.36" x2="531.29" y2="279.36" stroke="#222" stroke-width="1.0"/>
<line x1="527.39" y1="285.16" x2="531.29" y2="285.16" stroke="#222" stroke-width="1.0"/>
<line x1="354.12" y1="393.00" x2="354.12" y2="390.80" stroke="#1a1a1a" stroke-width="1.0"/>
<line x1="400.64" y1="393.00" x2="400.64" y2="390.80" stroke="#1a1a1a" stroke-width="1.0"/>
<line x1="447.16" y1="393.00" x2="447.16" y2="390.80" stroke="#1a1a1a" stroke-width="1.0"/>
<line x1="493.68" y1="393.00" x2="493.68" y2="390.80" stroke="#1a1a1a" stroke-width="1.0"/>
<path d="M307.60 220.70 H540.20 V393.00 H307.60 Z" fill="none" stroke="#1a1a1a" stroke-width="1.8" stroke-linejoin="miter"/>
<line x1="307.60" y1="392.40" x2="311.10" y2="392.40" stroke="#1a1a1a" stroke-width="1.2"/>
<text x="304.00" y="396.00" font-size="10.6" text-anchor="end" fill="#000000" font-weight="normal">0</text>
<line x1="307.60" y1="366.05" x2="311.10" y2="366.05" stroke="#1a1a1a" stroke-width="1.2"/>
<text x="304.00" y="369.65" font-size="10.6" text-anchor="end" fill="#000000" font-weight="normal">20</text>
<line x1="307.60" y1="339.70" x2="311.10" y2="339.70" stroke="#1a1a1a" stroke-width="1.2"/>
<text x="304.00" y="343.30" font-size="10.6" text-anchor="end" fill="#000000" font-weight="normal">40</text>
<line x1="307.60" y1="313.35" x2="311.10" y2="313.35" stroke="#1a1a1a" stroke-width="1.2"/>
<text x="304.00" y="316.95" font-size="10.6" text-anchor="end" fill="#000000" font-weight="normal">60</text>
<line x1="307.60" y1="287.00" x2="311.10" y2="287.00" stroke="#1a1a1a" stroke-width="1.2"/>
<text x="304.00" y="290.60" font-size="10.6" text-anchor="end" fill="#000000" font-weight="normal">80</text>
<line x1="307.60" y1="260.65" x2="311.10" y2="260.65" stroke="#1a1a1a" stroke-width="1.2"/>
<text x="304.00" y="264.25" font-size="10.6" text-anchor="end" fill="#000000" font-weight="normal">100</text>
<line x1="307.60" y1="234.30" x2="311.10" y2="234.30" stroke="#1a1a1a" stroke-width="1.2"/>
<text x="304.00" y="237.90" font-size="10.6" text-anchor="end" fill="#000000" font-weight="normal">120</text>
<line x1="307.60" y1="379.22" x2="309.80" y2="379.22" stroke="#1a1a1a" stroke-width="1.0"/>
<line x1="307.60" y1="352.88" x2="309.80" y2="352.88" stroke="#1a1a1a" stroke-width="1.0"/>
<line x1="307.60" y1="326.52" x2="309.80" y2="326.52" stroke="#1a1a1a" stroke-width="1.0"/>
<line x1="307.60" y1="300.17" x2="309.80" y2="300.17" stroke="#1a1a1a" stroke-width="1.0"/>
<line x1="307.60" y1="273.82" x2="309.80" y2="273.82" stroke="#1a1a1a" stroke-width="1.0"/>
<line x1="307.60" y1="247.47" x2="309.80" y2="247.47" stroke="#1a1a1a" stroke-width="1.0"/>
<text x="330.86" y="404.80" font-size="10.5" text-anchor="middle" fill="#000000" font-weight="normal">0</text>
<text x="377.38" y="404.80" font-size="10.5" text-anchor="middle" fill="#000000" font-weight="normal">5</text>
<text x="423.90" y="404.80" font-size="10.5" text-anchor="middle" fill="#000000" font-weight="normal">10</text>
<text x="470.42" y="404.80" font-size="10.5" text-anchor="middle" fill="#000000" font-weight="normal">15</text>
<text x="516.94" y="404.80" font-size="10.5" text-anchor="middle" fill="#000000" font-weight="normal">20</text>
<text x="418.60" y="416.80" font-size="10.5" text-anchor="middle" fill="#000000" font-weight="normal">The content of WG (phr)</text>
<text x="291.80" y="309.70" font-size="11.2" text-anchor="middle" fill="#000000" font-weight="normal" transform="rotate(-90 291.8 309.7)">Expansion rate</text>
<text x="320.30" y="237.10" font-size="14" text-anchor="start" fill="#000000" font-weight="normal">(d)</text>
<rect x="466.40" y="222.60" width="22.10" height="10.00" fill="#f38e3f" stroke="#333" stroke-width="0.9"/>
<text x="492.80" y="231.10" font-size="9.5" text-anchor="start" fill="#000000" font-weight="normal">EPU-WG</text>
<rect x="466.40" y="234.70" width="22.10" height="10.00" fill="#3c5c94" stroke="#333" stroke-width="0.9"/>
<text x="492.80" y="243.20" font-size="9.5" text-anchor="start" fill="#000000" font-weight="normal">EPUP-WG</text>
<rect x="466.40" y="246.80" width="22.10" height="10.00" fill="#4c86c4" stroke="#333" stroke-width="0.9"/>
<text x="492.80" y="255.30" font-size="9.5" text-anchor="start" fill="#000000" font-weight="normal">PU-WG</text>
</g>
</svg></div>
</body></html>
